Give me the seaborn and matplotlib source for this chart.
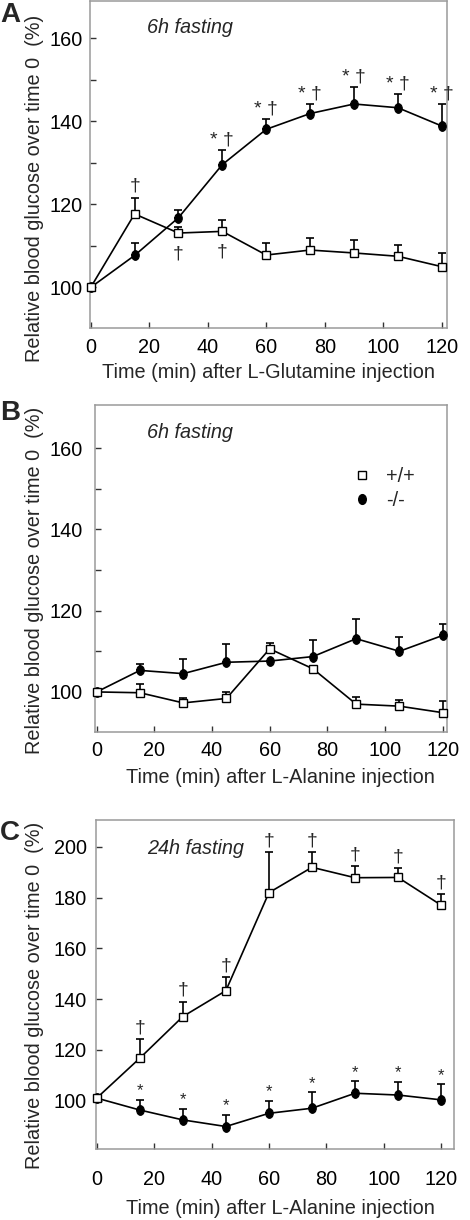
import numpy as np
import pandas as pd
import seaborn as sns
import matplotlib.pyplot as plt
from matplotlib.path import Path
from matplotlib.lines import Line2D

sns.set_theme(style="white")
plt.rcParams["font.family"] = ["Liberation Sans", "DejaVu Sans"]

# time points (min)
t = [0, 15, 30, 45, 60, 75, 90, 105, 120]

# A: L-Glutamine, 6h fasting
wt_a = [100, 117.7, 113.1, 113.5, 107.8, 109.0, 108.3, 107.5, 105.0]
wt_a_err = [0, 3.9, 1.5, 2.8, 2.9, 2.9, 3.1, 2.6, 3.3]
ko_a = [100, 107.7, 116.8, 129.6, 138.1, 141.9, 144.2, 143.3, 138.9]
ko_a_err = [0, 2.9, 1.9, 3.6, 2.5, 2.3, 4.2, 3.3, 5.3]
wt_a_above = ["", "†", "", "", "", "", "", "", ""]
wt_a_below = ["", "", "†", "†", "", "", "", "", ""]
ko_a_above = ["", "", "", "* †", "* †", "* †", "* †", "* †", "* †"]

# B: L-Alanine, 6h fasting
wt_b = [100, 99.8, 97.3, 98.4, 110.6, 105.7, 97.0, 96.5, 94.9]
wt_b_err = [0, 2.1, 1.3, 1.6, 1.5, 0, 1.8, 1.6, 2.8]
ko_b = [100, 105.3, 104.5, 107.3, 107.6, 108.7, 113.1, 110.0, 113.9]
ko_b_err = [0, 1.6, 3.5, 4.4, 0, 4.0, 4.9, 3.6, 2.8]

# C: L-Alanine, 24h fasting
wt_c = [101, 116.7, 133.1, 143.3, 181.9, 191.9, 187.8, 187.9, 177.0]
wt_c_err = [0, 7.6, 5.9, 5.3, 16.1, 5.9, 4.7, 3.7, 4.4]
ko_c = [101, 96.3, 92.4, 89.8, 95.0, 97.0, 102.9, 102.2, 100.3]
ko_c_err = [0, 4.0, 4.3, 4.6, 5.0, 6.3, 4.8, 5.3, 6.1]
wt_c_above = ["", "†", "†", "†", "†", "†", "†", "†", "†"]
ko_c_above = ["", "*", "*", "*", "*", "*", "*", "*", "*"]

ylabel = "Relative blood glucose over time 0  (%)"

# slightly tall filled ellipse like the original markers
circ = Path.unit_circle()
ellipse = Path(circ.vertices * np.array([0.78, 1.0]), circ.codes)

spine_col = "#9a9a9a"
fs = 14.3


def draw_panel(ax, wt, wt_err, ko, ko_err):
    df = pd.DataFrame({"t": t, "wt": wt, "ko": ko})
    ax.errorbar(t, wt, yerr=[np.zeros(len(t)), wt_err], fmt="none",
                ecolor="black", elinewidth=1.2, capsize=3, capthick=1.2,
                zorder=2, clip_on=False)
    ax.errorbar(t, ko, yerr=[np.zeros(len(t)), ko_err], fmt="none",
                ecolor="black", elinewidth=1.2, capsize=3, capthick=1.2,
                zorder=2, clip_on=False)
    sns.lineplot(data=df, x="t", y="ko", ax=ax, color="black", lw=1.2,
                 marker=ellipse, markersize=7, markerfacecolor="black",
                 markeredgecolor="black", zorder=3, clip_on=False)
    sns.lineplot(data=df, x="t", y="wt", ax=ax, color="black", lw=1.2,
                 marker="s", markersize=6, markerfacecolor="white",
                 markeredgecolor="black", markeredgewidth=1.0, zorder=4,
                 clip_on=False)
    for s in ax.spines.values():
        s.set_color(spine_col)
        s.set_linewidth(1.1)
    ax.set_xticks([0, 20, 40, 60, 80, 100, 120])
    ax.tick_params(which="both", direction="in", length=4, width=1,
                   color="#333333", labelsize=fs, labelcolor="black",
                   bottom=True, left=True, top=False, right=False)


def annotate(ax, vals, errs, labels, dy, size, below=False):
    for x, v, e, lab in zip(t, vals, errs, labels):
        if not lab:
            continue
        if below:
            ax.annotate(lab, xy=(x, v), xytext=(0, dy), textcoords="offset points",
                        ha="center", va="top", fontsize=size)
        else:
            ax.annotate(lab, xy=(x, v + e), xytext=(0, dy), textcoords="offset points",
                        ha="center", va="bottom", fontsize=size)


fig = plt.figure(figsize=(4.7, 12.2), dpi=100)
axA = fig.add_axes([0.1915, 0.7311, 0.7596, 0.2680])
axB = fig.add_axes([0.2021, 0.4002, 0.7489, 0.2678])
axC = fig.add_axes([0.2043, 0.0579, 0.7617, 0.2699])

# panel A
draw_panel(axA, wt_a, wt_a_err, ko_a, ko_a_err)
axA.set_xlim(-0.24, 121.8)
axA.set_ylim(90.2, 169)
axA.set_yticks([100, 120, 140, 160])
axA.set_yticks([110, 130, 150], minor=True)
annotate(axA, wt_a, wt_a_err, wt_a_above, 2, 14)
annotate(axA, wt_a, wt_a_err, wt_a_below, -9, 14, below=True)
annotate(axA, ko_a, ko_a_err, ko_a_above, 1, 14)
axA.text(0.16, 0.918, "6h fasting", transform=axA.transAxes, fontsize=fs,
         style="italic", va="center", ha="left")
axA.set_xlabel("Time (min) after L-Glutamine injection", fontsize=fs)
axA.set_ylabel(ylabel, fontsize=fs)
axA.xaxis.set_label_coords(0.5, -0.107)
axA.yaxis.set_label_coords(-0.129, 0.427)
axA.tick_params(axis="x", pad=7)
axA.tick_params(axis="y", pad=5)

# panel B
draw_panel(axB, wt_b, wt_b_err, ko_b, ko_b_err)
axB.set_xlim(-0.59, 121.5)
axB.set_ylim(90.2, 170.6)
axB.set_yticks([100, 120, 140, 160])
axB.set_yticks([110, 130, 150], minor=True)
axB.text(0.148, 0.917, "6h fasting", transform=axB.transAxes, fontsize=fs,
         style="italic", va="center", ha="left")
axB.set_xlabel("Time (min) after L-Alanine injection", fontsize=fs)
axB.set_ylabel(ylabel, fontsize=fs)
axB.xaxis.set_label_coords(0.528, -0.111)
axB.yaxis.set_label_coords(-0.145, 0.464)
axB.tick_params(axis="x", pad=7)
axB.tick_params(axis="y", pad=9)
handles = [
    Line2D([], [], ls="none", marker="s", markersize=6, markerfacecolor="white",
           markeredgecolor="black", markeredgewidth=1.0),
    Line2D([], [], ls="none", marker=ellipse, markersize=7, color="black"),
]
axB.legend(handles, ["+/+", "-/-"], frameon=False, loc="upper left",
           bbox_to_anchor=(0.702, 0.840), borderpad=0, handlelength=1.0,
           handletextpad=0.7, labelspacing=0.25, fontsize=fs)

# panel C
draw_panel(axC, wt_c, wt_c_err, ko_c, ko_c_err)
axC.set_xlim(-0.24, 124.5)
axC.set_ylim(80.8, 210.5)
axC.set_yticks([100, 120, 140, 160, 180, 200])
annotate(axC, wt_c, wt_c_err, wt_c_above, 2, 14)
annotate(axC, ko_c, ko_c_err, ko_c_above, 1, 12)
axC.text(0.142, 0.915, "24h fasting", transform=axC.transAxes, fontsize=fs,
         style="italic", va="center", ha="left")
axC.set_xlabel("Time (min) after L-Alanine injection", fontsize=fs)
axC.set_ylabel(ylabel, fontsize=fs)
axC.xaxis.set_label_coords(0.516, -0.151)
axC.yaxis.set_label_coords(-0.145, 0.469)
axC.tick_params(axis="x", pad=15)
axC.tick_params(axis="y", pad=6.5)

# panel letters
fig.text(0.0, 1 - 2 / 1220, "A", fontsize=20, fontweight="bold", va="top", ha="left")
fig.text(0.0, 1 - 413 / 1220, "B", fontsize=20, fontweight="bold", va="center", ha="left")
fig.text(0.0, 1 - 833 / 1220, "C", fontsize=20, fontweight="bold", va="center", ha="left")

fig.savefig("out.png", dpi=100)
